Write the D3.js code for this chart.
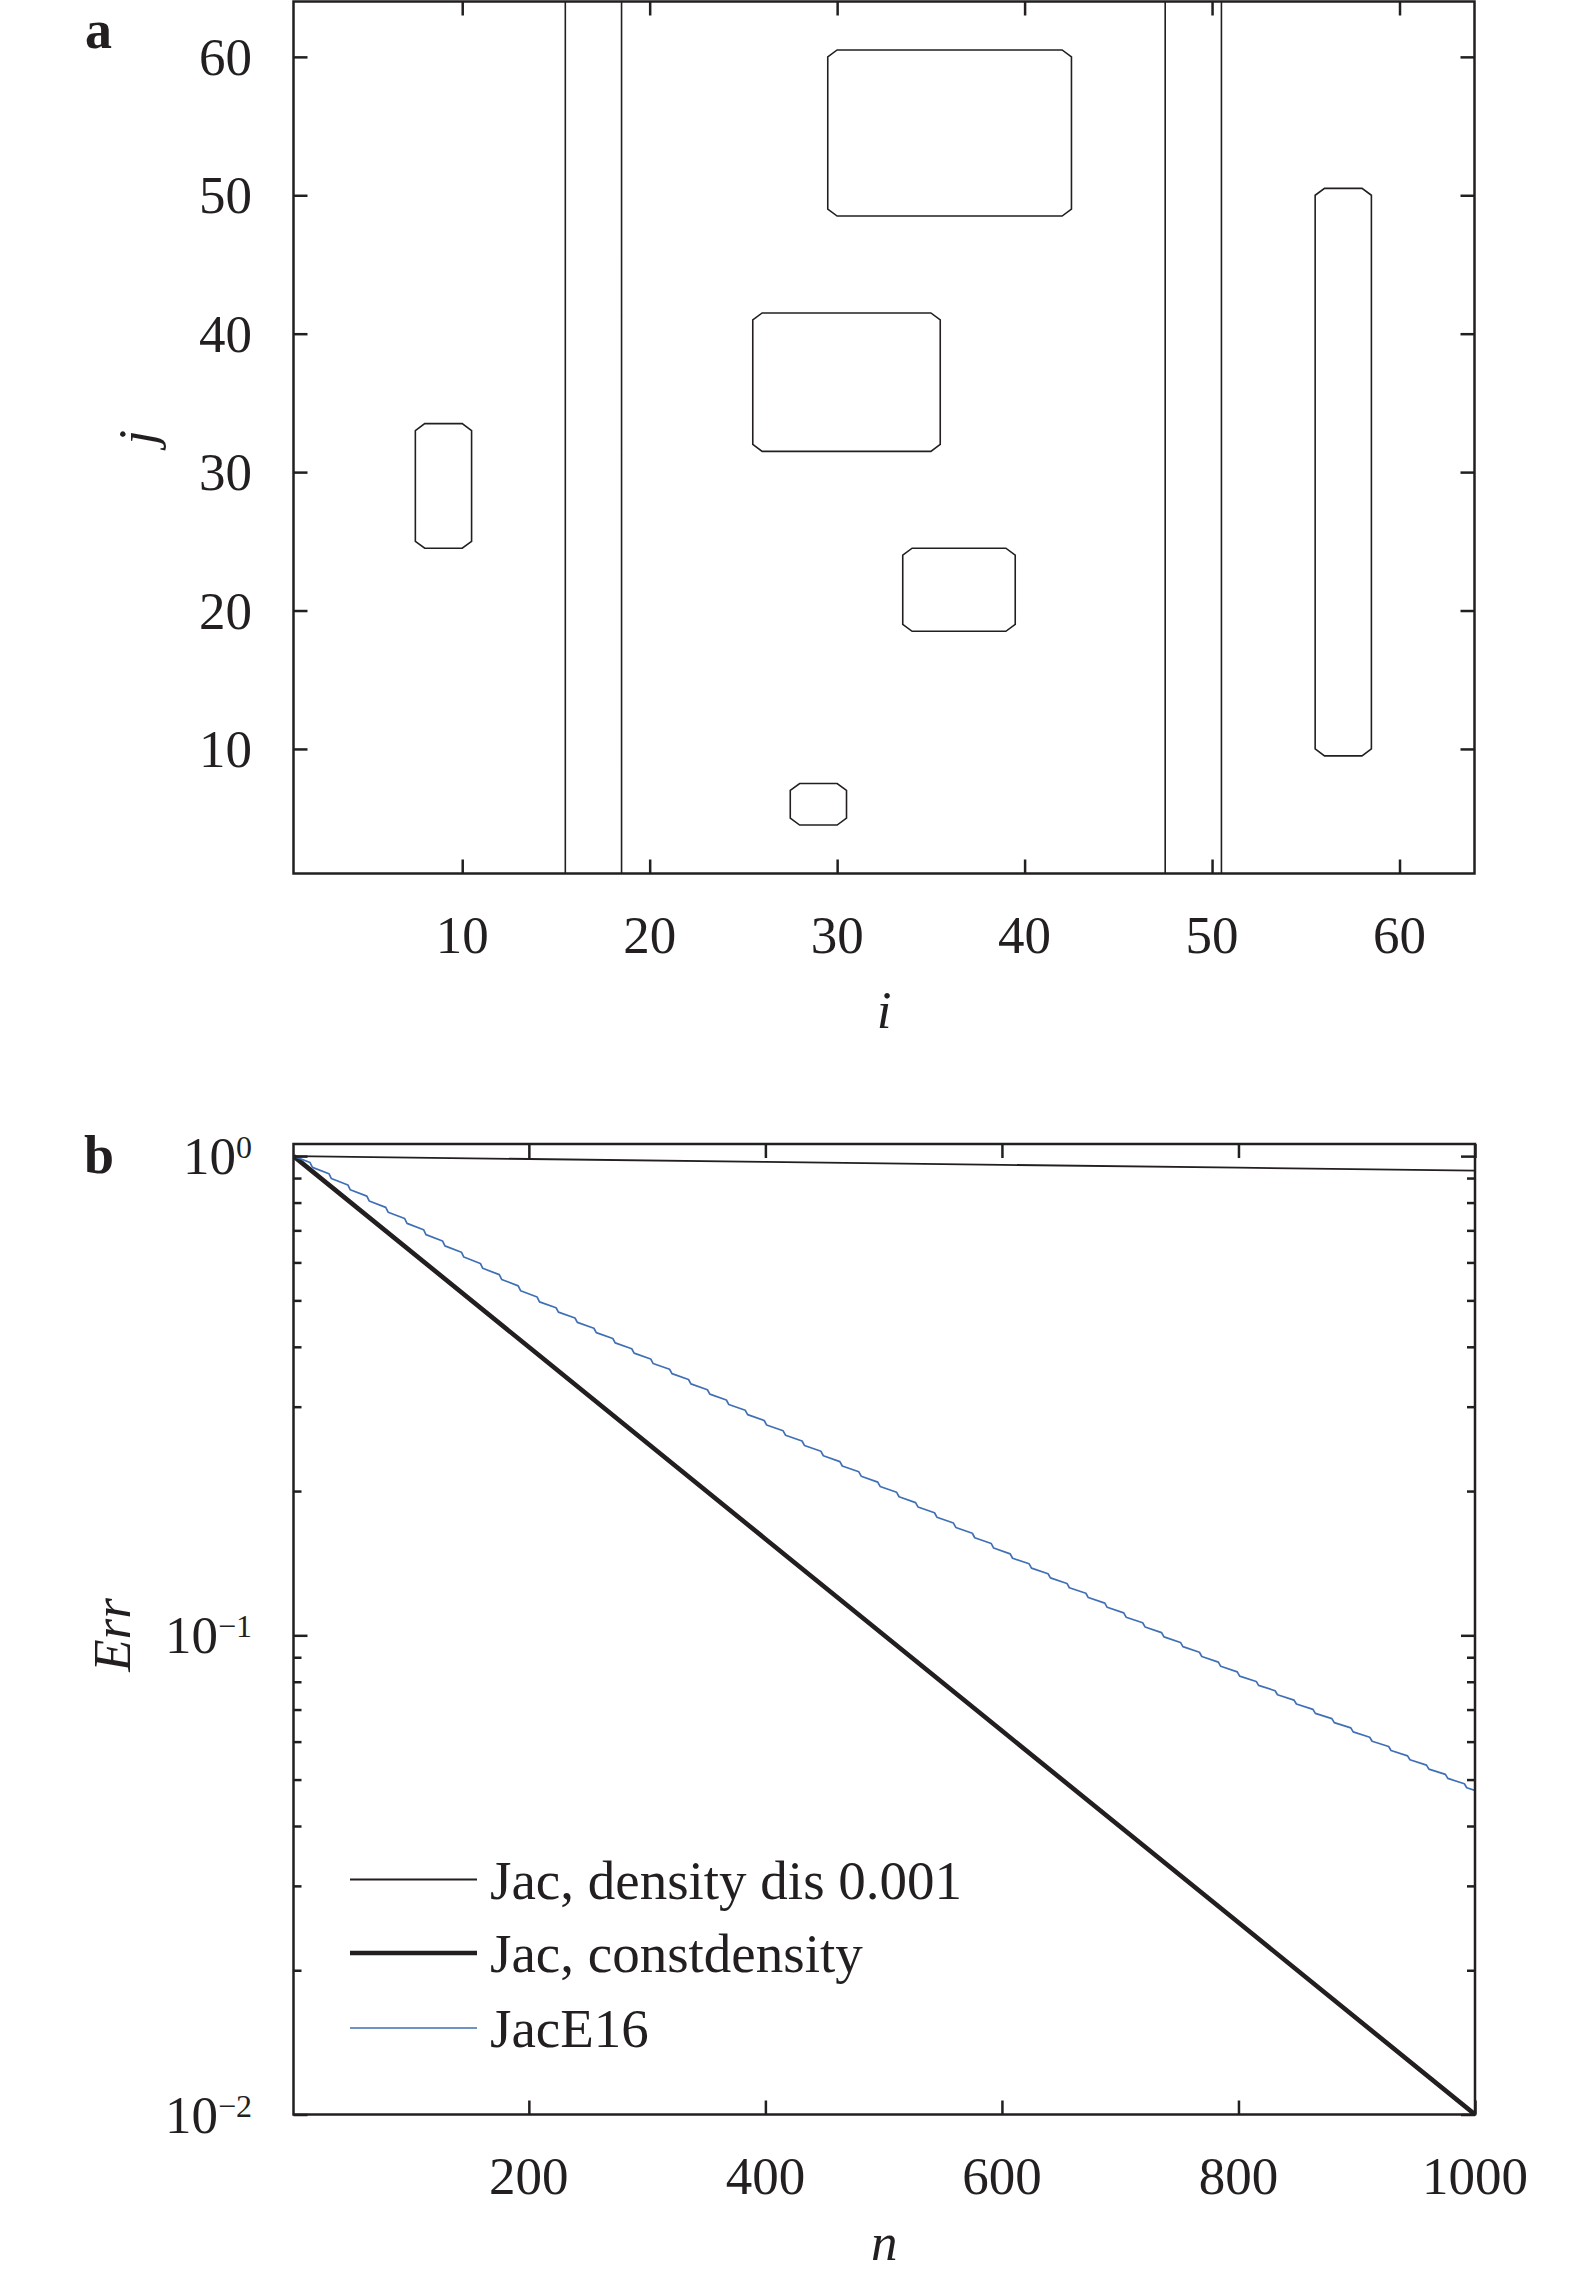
<!DOCTYPE html>
<html>
<head>
<meta charset="utf-8">
<script src="https://cdn.jsdelivr.net/npm/d3@7"></script>
<style>
  body { margin: 0; background: #fff; }
  svg text { font-family: "Liberation Serif", "Times New Roman", serif; fill: #231f20; }
</style>
</head>
<body>
<svg id="fig" width="1575" height="2278"></svg>
<script>
"use strict";

// ---- panel a: cell blocks (i and j ranges) where the field is 1
const blockI0 = [16, 48, 8, 26, 30, 34, 28, 56];
const blockI1 = [18, 50, 10, 35, 42, 39, 30, 58];
const blockJ0 = [1, 1, 25, 32, 49, 19, 5, 10];
const blockJ1 = [64, 64, 33, 41, 60, 24, 7, 50];
const gridN = 64;
const aTicks = [10, 20, 30, 40, 50, 60];

// ---- panel b
const bXTicks = [200, 400, 600, 800, 1000];
const bYMajor = [0.01, 0.1, 1];
const bYExp = ["\u22122", "\u22121", "0"];
const bYMinor = [0.02, 0.03, 0.04, 0.05, 0.06, 0.07, 0.08, 0.09,
                 0.2, 0.3, 0.4, 0.5, 0.6, 0.7, 0.8, 0.9];
const legendNames = ["Jac, density dis 0.001", "Jac, constdensity", "JacE16"];

const densN = [1, 200, 400, 600, 800, 1000];
const densErr = [1.0, 0.9862, 0.9725, 0.9590, 0.9458, 0.9326];

const constN = [1, 200, 400, 600, 800, 1000];
const constErr = [1.0, 0.3996, 0.1589, 0.0632, 0.02515, 0.0100];

const e16N = [
  1, 15, 17, 31, 33, 47, 49, 63,
  65, 79, 81, 95, 97, 111, 113, 127,
  129, 143, 145, 159, 161, 175, 177, 191,
  193, 207, 209, 223, 225, 239, 241, 255,
  257, 271, 273, 287, 289, 303, 305, 319,
  321, 335, 337, 351, 353, 367, 369, 383,
  385, 399, 401, 415, 417, 431, 433, 447,
  449, 463, 465, 479, 481, 495, 497, 511,
  513, 527, 529, 543, 545, 559, 561, 575,
  577, 591, 593, 607, 609, 623, 625, 639,
  641, 655, 657, 671, 673, 687, 689, 703,
  705, 719, 721, 735, 737, 751, 753, 767,
  769, 783, 785, 799, 801, 815, 817, 831,
  833, 847, 849, 863, 865, 879, 881, 895,
  897, 911, 913, 927, 929, 943, 945, 959,
  961, 975, 977, 991, 993, 1000];
const e16Err = [
  1.000, 0.9698, 0.9475, 0.9189, 0.8978, 0.8707, 0.8508, 0.8251,
  0.8061, 0.7818, 0.7638, 0.7408, 0.7239, 0.7021, 0.6859, 0.6652,
  0.6498, 0.6302, 0.6157, 0.5971, 0.5834, 0.5658, 0.5528, 0.5361,
  0.5238, 0.5080, 0.4964, 0.4826, 0.4725, 0.4594, 0.4498, 0.4373,
  0.4282, 0.4163, 0.4076, 0.3963, 0.3880, 0.3773, 0.3693, 0.3591,
  0.3516, 0.3419, 0.3347, 0.3254, 0.3186, 0.3098, 0.3032, 0.2948,
  0.2887, 0.2807, 0.2748, 0.2672, 0.2616, 0.2544, 0.2490, 0.2421,
  0.2370, 0.2304, 0.2256, 0.2194, 0.2148, 0.2088, 0.2045, 0.1988,
  0.1946, 0.1892, 0.1853, 0.1802, 0.1764, 0.1715, 0.1679, 0.1633,
  0.1598, 0.1554, 0.1521, 0.1479, 0.1448, 0.1410, 0.1381, 0.1344,
  0.1318, 0.1283, 0.1257, 0.1224, 0.1199, 0.1167, 0.1144, 0.1114,
  0.1091, 0.1062, 0.1041, 0.1013, 0.09927, 0.09663, 0.09469, 0.09217,
  0.09032, 0.08792, 0.08616, 0.08387, 0.08219, 0.08012, 0.07860, 0.07662,
  0.07516, 0.07326, 0.07188, 0.07007, 0.06874, 0.06701, 0.06574, 0.06408,
  0.06286, 0.06127, 0.06012, 0.05860, 0.05749, 0.05604, 0.05498, 0.05359,
  0.05258, 0.05125, 0.05028, 0.04901, 0.04808, 0.04747];

const ink = "#231f20";
const blue = "#3f6fb5";
const tickFont = 53;

const svg = d3.select("#fig");
const defs = svg.append("defs");

// draws tick marks only (labels are added separately)
function ticksOnly(g, axis, transform, width) {
  g.append("g")
    .attr("transform", transform)
    .call(axis)
    .call(s => s.select(".domain").remove())
    .call(s => s.selectAll(".tick text").remove())
    .call(s => s.selectAll(".tick line").attr("stroke", ink).attr("stroke-width", width));
}

// ================= panel a =================
const xa = d3.scaleLinear().domain([1, 64]).range([293.5, 1474.5]);
const ya = d3.scaleLinear().domain([1, 64]).range([873.5, 1.5]);

defs.append("clipPath").attr("id", "clipA")
  .append("rect")
  .attr("x", xa(1)).attr("y", ya(64))
  .attr("width", xa(64) - xa(1)).attr("height", ya(1) - ya(64));

const ga = svg.append("g");

// build the field from the blocks, then contour it at 0.5
const field = new Array(gridN * gridN).fill(0);
for (let b = 0; b < blockI0.length; b++) {
  for (let j = blockJ0[b]; j <= blockJ1[b]; j++) {
    for (let i = blockI0[b]; i <= blockI1[b]; i++) {
      field[(j - 1) * gridN + (i - 1)] = 1;
    }
  }
}
const contourSet = d3.contours().size([gridN, gridN]).thresholds([0.5])(field);
const toPlotA = d3.geoTransform({
  point: function(px, py) { this.stream.point(xa(px + 0.5), ya(py + 0.5)); }
});

ga.append("g")
  .attr("clip-path", "url(#clipA)")
  .selectAll("path")
  .data(contourSet)
  .enter()
  .append("path")
  .attr("d", d3.geoPath(toPlotA))
  .attr("fill", "none")
  .attr("stroke", ink)
  .attr("stroke-width", 1.6);

ticksOnly(ga, d3.axisBottom(xa).tickValues(aTicks).tickSizeInner(-14).tickSizeOuter(0), `translate(0,${ya(1)})`, 2.5);
ticksOnly(ga, d3.axisTop(xa).tickValues(aTicks).tickSizeInner(-14).tickSizeOuter(0), `translate(0,${ya(64)})`, 2.5);
ticksOnly(ga, d3.axisLeft(ya).tickValues(aTicks).tickSizeInner(-14).tickSizeOuter(0), `translate(${xa(1)},0)`, 2.5);
ticksOnly(ga, d3.axisRight(ya).tickValues(aTicks).tickSizeInner(-14).tickSizeOuter(0), `translate(${xa(64)},0)`, 2.5);

ga.append("rect")
  .attr("x", xa(1)).attr("y", ya(64))
  .attr("width", xa(64) - xa(1)).attr("height", ya(1) - ya(64))
  .attr("fill", "none").attr("stroke", ink).attr("stroke-width", 2.5);

ga.selectAll(".xlab")
  .data(aTicks)
  .enter()
  .append("text")
  .attr("x", d => xa(d))
  .attr("y", ya(1) + 79)
  .attr("text-anchor", "middle")
  .attr("font-size", tickFont)
  .text(d => d);

ga.selectAll(".ylab")
  .data(aTicks)
  .enter()
  .append("text")
  .attr("x", 252)
  .attr("y", d => ya(d) + 18)
  .attr("text-anchor", "end")
  .attr("font-size", tickFont)
  .text(d => d);

ga.append("text")
  .attr("x", (xa(1) + xa(64)) / 2).attr("y", 1028)
  .attr("text-anchor", "middle")
  .attr("font-size", tickFont).attr("font-style", "italic")
  .text("i");

ga.append("text")
  .attr("transform", `translate(155,${(ya(1) + ya(64)) / 2}) rotate(-90)`)
  .attr("text-anchor", "middle")
  .attr("font-size", tickFont).attr("font-style", "italic")
  .text("j");

ga.append("text")
  .attr("x", 85).attr("y", 48)
  .attr("font-size", 54).attr("font-weight", "bold")
  .text("a");

// ================= panel b =================
const xb = d3.scaleLinear().domain([1, 1000]).range([293.5, 1475]);
const yb = d3.scaleLog().domain([0.01, 1.06]).range([2114.5, 1144]);

defs.append("clipPath").attr("id", "clipB")
  .append("rect")
  .attr("x", xb(1)).attr("y", yb(1.06))
  .attr("width", xb(1000) - xb(1)).attr("height", yb(0.01) - yb(1.06));

const gb = svg.append("g");

const seriesB = [
  { n: densN, err: densErr, color: ink, width: 1.8 },
  { n: constN, err: constErr, color: ink, width: 4.6 },
  { n: e16N, err: e16Err, color: blue, width: 1.7 }
];

const lineB = d3.line()
  .x(d => xb(d[0]))
  .y(d => yb(d[1]));

gb.append("g")
  .attr("clip-path", "url(#clipB)")
  .selectAll("path")
  .data(seriesB)
  .enter()
  .append("path")
  .attr("d", s => lineB(s.n.map((v, k) => [v, s.err[k]])))
  .attr("fill", "none")
  .attr("stroke", s => s.color)
  .attr("stroke-width", s => s.width)
  .attr("stroke-linejoin", "round");

ticksOnly(gb, d3.axisBottom(xb).tickValues(bXTicks).tickSizeInner(-14).tickSizeOuter(0), `translate(0,${yb(0.01)})`, 2.5);
ticksOnly(gb, d3.axisTop(xb).tickValues(bXTicks).tickSizeInner(-14).tickSizeOuter(0), `translate(0,${yb(1.06)})`, 2.5);
ticksOnly(gb, d3.axisLeft(yb).tickValues(bYMajor).tickSizeInner(-14).tickSizeOuter(0), `translate(${xb(1)},0)`, 2.5);
ticksOnly(gb, d3.axisRight(yb).tickValues(bYMajor).tickSizeInner(-14).tickSizeOuter(0), `translate(${xb(1000)},0)`, 2.5);
ticksOnly(gb, d3.axisLeft(yb).tickValues(bYMinor).tickSizeInner(-8).tickSizeOuter(0), `translate(${xb(1)},0)`, 2.5);
ticksOnly(gb, d3.axisRight(yb).tickValues(bYMinor).tickSizeInner(-8).tickSizeOuter(0), `translate(${xb(1000)},0)`, 2.5);

gb.append("rect")
  .attr("x", xb(1)).attr("y", yb(1.06))
  .attr("width", xb(1000) - xb(1)).attr("height", yb(0.01) - yb(1.06))
  .attr("fill", "none").attr("stroke", ink).attr("stroke-width", 2.5);

gb.selectAll(".xlab")
  .data(bXTicks)
  .enter()
  .append("text")
  .attr("x", d => xb(d))
  .attr("y", yb(0.01) + 79)
  .attr("text-anchor", "middle")
  .attr("font-size", tickFont)
  .text(d => d);

const yLabB = gb.selectAll(".ylab")
  .data(bYMajor)
  .enter()
  .append("text")
  .attr("x", 252)
  .attr("y", d => yb(d) + 18)
  .attr("text-anchor", "end")
  .attr("font-size", tickFont);
yLabB.append("tspan").text("10");
yLabB.append("tspan")
  .attr("dy", -16)
  .attr("font-size", 32)
  .text((d, i) => bYExp[i]);

gb.append("text")
  .attr("x", (xb(1) + xb(1000)) / 2).attr("y", 2260)
  .attr("text-anchor", "middle")
  .attr("font-size", tickFont).attr("font-style", "italic")
  .text("n");

gb.append("text")
  .attr("transform", `translate(130,1635) rotate(-90)`)
  .attr("text-anchor", "middle")
  .attr("font-size", tickFont).attr("font-style", "italic")
  .text("Err");

gb.append("text")
  .attr("x", 84).attr("y", 1173)
  .attr("font-size", 54).attr("font-weight", "bold")
  .text("b");

// legend
const legendY = [1879.5, 1953, 2028];
const legend = gb.selectAll(".leg")
  .data(seriesB)
  .enter()
  .append("g");
legend.append("line")
  .attr("x1", 350).attr("x2", 477)
  .attr("y1", (d, i) => legendY[i]).attr("y2", (d, i) => legendY[i])
  .attr("stroke", d => d.color)
  .attr("stroke-width", d => d.width);
legend.append("text")
  .attr("x", 490)
  .attr("y", (d, i) => legendY[i] + 19)
  .attr("font-size", 55)
  .text((d, i) => legendNames[i]);
</script>
</body>
</html>
